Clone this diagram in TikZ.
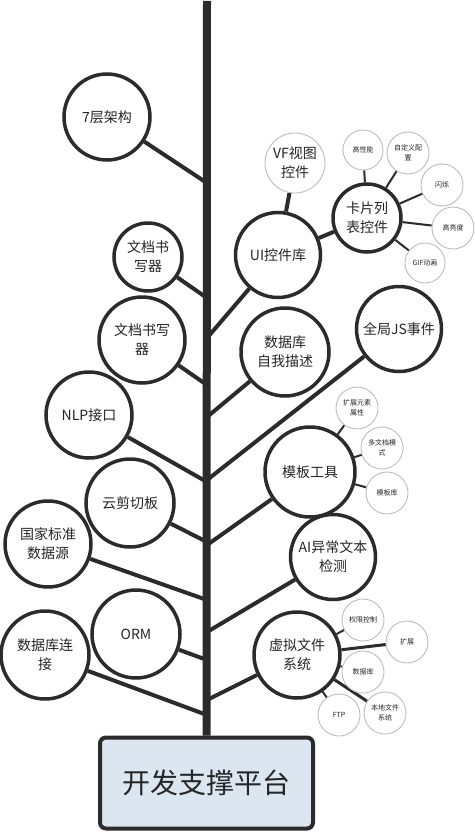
\documentclass[tikz,border=0pt]{standalone}
\usepackage{fontspec}
\setmainfont{Noto Sans CJK SC}
\usetikzlibrary{backgrounds}
\definecolor{ln}{HTML}{2B2B2B}
\definecolor{boxfill}{HTML}{DCE6F1}
\definecolor{thin}{HTML}{BDBDBD}
\definecolor{txt}{HTML}{262626}
\begin{document}
\begin{tikzpicture}[x=1pt,y=-1pt,
 big/.style={circle,draw=ln,line width=3.5pt,fill=white,inner sep=0pt,align=center,text=txt,font=\fontsize{14}{19}\selectfont},
 sml/.style={circle,draw=thin,line width=0.9pt,fill=white,inner sep=0pt,minimum size=42pt,align=center,text=txt,font=\fontsize{7}{10}\selectfont},
 branch/.style={draw=ln,line width=4pt},
 twig/.style={draw=ln,line width=2pt},
 trunkline/.style={draw=ln,line width=8pt},
 basebox/.style={draw=ln,line width=4pt,fill=boxfill,rounded corners=6pt,minimum width=213pt,minimum height=91pt,inner sep=0pt,text=txt,font=\fontsize{28}{32}\selectfont},
]
\useasboundingbox (0,0) rectangle (474,832);

% base box and trunk
\node[basebox] (base) at (206.5,783) {开发支撑平台};
\coordinate (top) at (207,1);

% trunk junctions
\coordinate (j1) at (207,183);
\coordinate (j2) at (207,298);
\coordinate (j3) at (207,385);
\coordinate (j4) at (207,482);
\coordinate (j5) at (207,542);
\coordinate (j6) at (207,600);
\coordinate (j7) at (207,660);
\coordinate (j8) at (207,715);
\coordinate (r1) at (207,338);
\coordinate (r2) at (207,417);
\coordinate (r3) at (207,480);
\coordinate (r4) at (207,545);
\coordinate (r5) at (207,632);
\coordinate (r6) at (207,700);

% left circles
\node[big,minimum size=86pt] (c7) at (107,117) {7层架构};
\node[big,minimum size=68pt] (wd1) at (148,257) {文档书\\写器};
\node[big,minimum size=86pt] (wd2) at (142,340) {文档书写\\器};
\node[big,minimum size=86pt] (nlp) at (89,415) {NLP接口};
\node[big,minimum size=88pt] (yun) at (130,503) {云剪切板};
\node[big,minimum size=86pt] (gj) at (48,544) {国家标准\\数据源};
\node[big,minimum size=88pt] (orm) at (136,634) {ORM};
\node[big,minimum size=88pt] (sjk) at (45,655) {数据库连\\接};

% right circles
\node[big,minimum size=85pt] (ui) at (278,255) {UI控件库};
\node[sml,minimum size=60pt,font=\fontsize{14}{19}\selectfont] (vf) at (295,163) {VF视图\\控件};
\node[big,minimum size=68pt] (kp) at (367,218) {卡片列\\表控件};
\node[sml,minimum size=40pt] (k1) at (363,150) {高性能};
\node[sml] (k2) at (408,153) {自定义配\\置};
\node[sml] (k3) at (442,185) {闪烁};
\node[sml] (k4) at (453,228) {高亮度};
\node[sml,minimum size=40pt] (k5) at (425,263) {GIF动画};

\node[big,minimum size=88pt] (zw) at (285,352) {数据库\\自我描述};
\node[big,minimum size=85pt] (js) at (399,329) {全局JS事件};
\node[big,minimum size=90pt] (mb) at (310,472) {模板工具};
\node[sml] (m1) at (357,408) {扩展元素\\属性};
\node[sml] (m2) at (382,448) {多文档模\\式};
\node[sml] (m3) at (387,493) {模板库};
\node[big,minimum size=85pt] (ai) at (333,557) {AI异常文本\\检测};
\node[big,minimum size=86pt] (xn) at (297,655) {虚拟文件\\系统};
\node[sml] (x1) at (363,620) {权限控制};
\node[sml] (x2) at (407,642) {扩展};
\node[sml] (x3) at (363,672) {数据库};
\node[sml] (x4) at (339,715) {FTP};
\node[sml] (x5) at (385,713) {本地文件\\系统};

% connectors (drawn behind nodes)
\begin{scope}[on background layer]
\path[trunkline] (top) -- (base.north);
\path[branch] (c7) -- (j1);
\path[branch] (wd1) -- (j2);
\path[branch] (wd2) -- (j3);
\path[branch] (nlp) -- (j4);
\path[branch] (yun) -- (j5);
\path[branch] (gj) -- (j6);
\path[branch] (orm) -- (j7);
\path[branch] (sjk) -- (j8);
\path[branch] (ui) -- (r1);
\path[branch] (zw) -- (r2);
\path[branch] (js) -- (r3);
\path[branch] (mb) -- (r4);
\path[branch] (ai) -- (r5);
\path[branch] (xn) -- (r6);
\path[branch] (ui) -- (vf);
\path[branch] (ui) -- (kp);
\path[twig] (kp) -- (k1);
\path[twig] (kp) -- (k2);
\path[twig] (kp) -- (k3);
\path[twig] (kp) -- (k4);
\path[twig] (kp) -- (k5);
\path[twig] (mb) -- (m1);
\path[twig] (mb) -- (m2);
\path[twig] (mb) -- (m3);
\path[twig] (xn) -- (x1);
\path[branch,line width=3pt] (xn) -- (x2);
\path[twig] (xn) -- (x3);
\path[twig] (xn) -- (x4);
\path[branch,line width=3pt] (xn) -- (x5);
\end{scope}
\end{tikzpicture}
\end{document}
